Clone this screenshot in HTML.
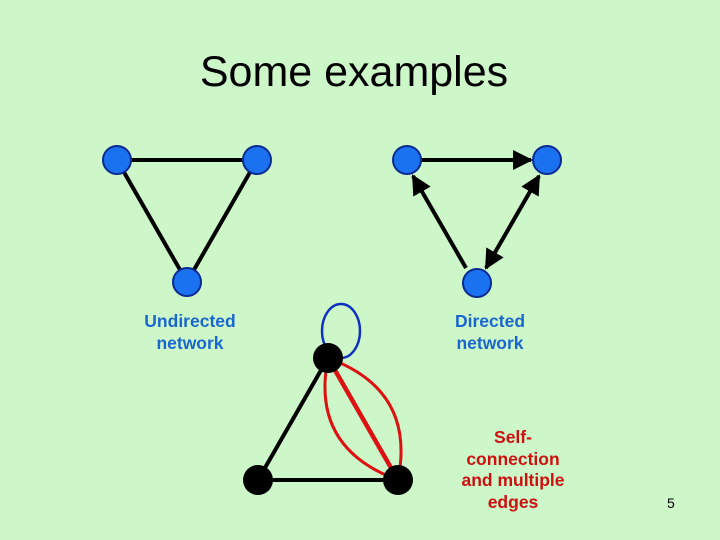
<!DOCTYPE html>
<html><head><meta charset="utf-8"><style>
html,body{margin:0;padding:0}
body{width:720px;height:540px;background:#cdf7c9;position:relative;overflow:hidden;font-family:"Liberation Sans",sans-serif}
.t{position:absolute;text-align:center;font-weight:bold;font-size:17.5px;line-height:21.5px}
</style></head><body>
<div style="position:absolute;left:0;width:708px;top:48px;text-align:center;font-size:43px;color:#000">Some examples</div>
<svg width="720" height="540" style="position:absolute;left:0;top:0">
<defs><marker id="a" markerWidth="5" markerHeight="5" refX="4.5" refY="2.5" orient="auto-start-reverse" markerUnits="strokeWidth"><path d="M0,0 L5,2.5 L0,5 z" fill="#000"/></marker></defs>
<g stroke="#000" stroke-width="4">
<line x1="117" y1="160" x2="257" y2="160"/>
<line x1="117" y1="160" x2="187" y2="282"/>
<line x1="257" y1="160" x2="187" y2="282"/>
<line x1="420" y1="160" x2="531" y2="160" marker-end="url(#a)"/>
<line x1="466" y1="268" x2="413" y2="176" marker-end="url(#a)"/>
<line x1="539" y1="176" x2="486" y2="268" marker-start="url(#a)" marker-end="url(#a)"/>
<line x1="328" y1="358" x2="258" y2="480"/>
<line x1="258" y1="480" x2="398" y2="480"/>
</g>
<ellipse cx="341" cy="331" rx="19" ry="27" fill="none" stroke="#1030c0" stroke-width="2.5"/>
<g stroke="#dd1111" stroke-width="3" fill="none">
<line x1="328" y1="358" x2="398" y2="480" stroke-width="4.5"/>
<path d="M328,358 Q310,448 398,480"/>
<path d="M328,358 Q416,390 398,480"/>
</g>
<g fill="#1a72f0" stroke="#0a2a90" stroke-width="2">
<circle cx="117" cy="160" r="14"/><circle cx="257" cy="160" r="14"/><circle cx="187" cy="282" r="14"/>
<circle cx="407" cy="160" r="14"/><circle cx="547" cy="160" r="14"/><circle cx="477" cy="283" r="14"/>
</g>
<g fill="#000"><circle cx="328" cy="358" r="15"/><circle cx="258" cy="480" r="15"/><circle cx="398" cy="480" r="15"/></g>
</svg>
<div class="t" style="left:130px;width:120px;top:311px;color:#1a66d0">Undirected<br>network</div>
<div class="t" style="left:430px;width:120px;top:311px;color:#1a66d0">Directed<br>network</div>
<div class="t" style="left:450px;width:126px;top:427px;color:#cc1111">Self-<br>connection<br>and multiple<br>edges</div>
<div style="position:absolute;left:667px;top:495px;font-size:14px">5</div>
</body></html>
